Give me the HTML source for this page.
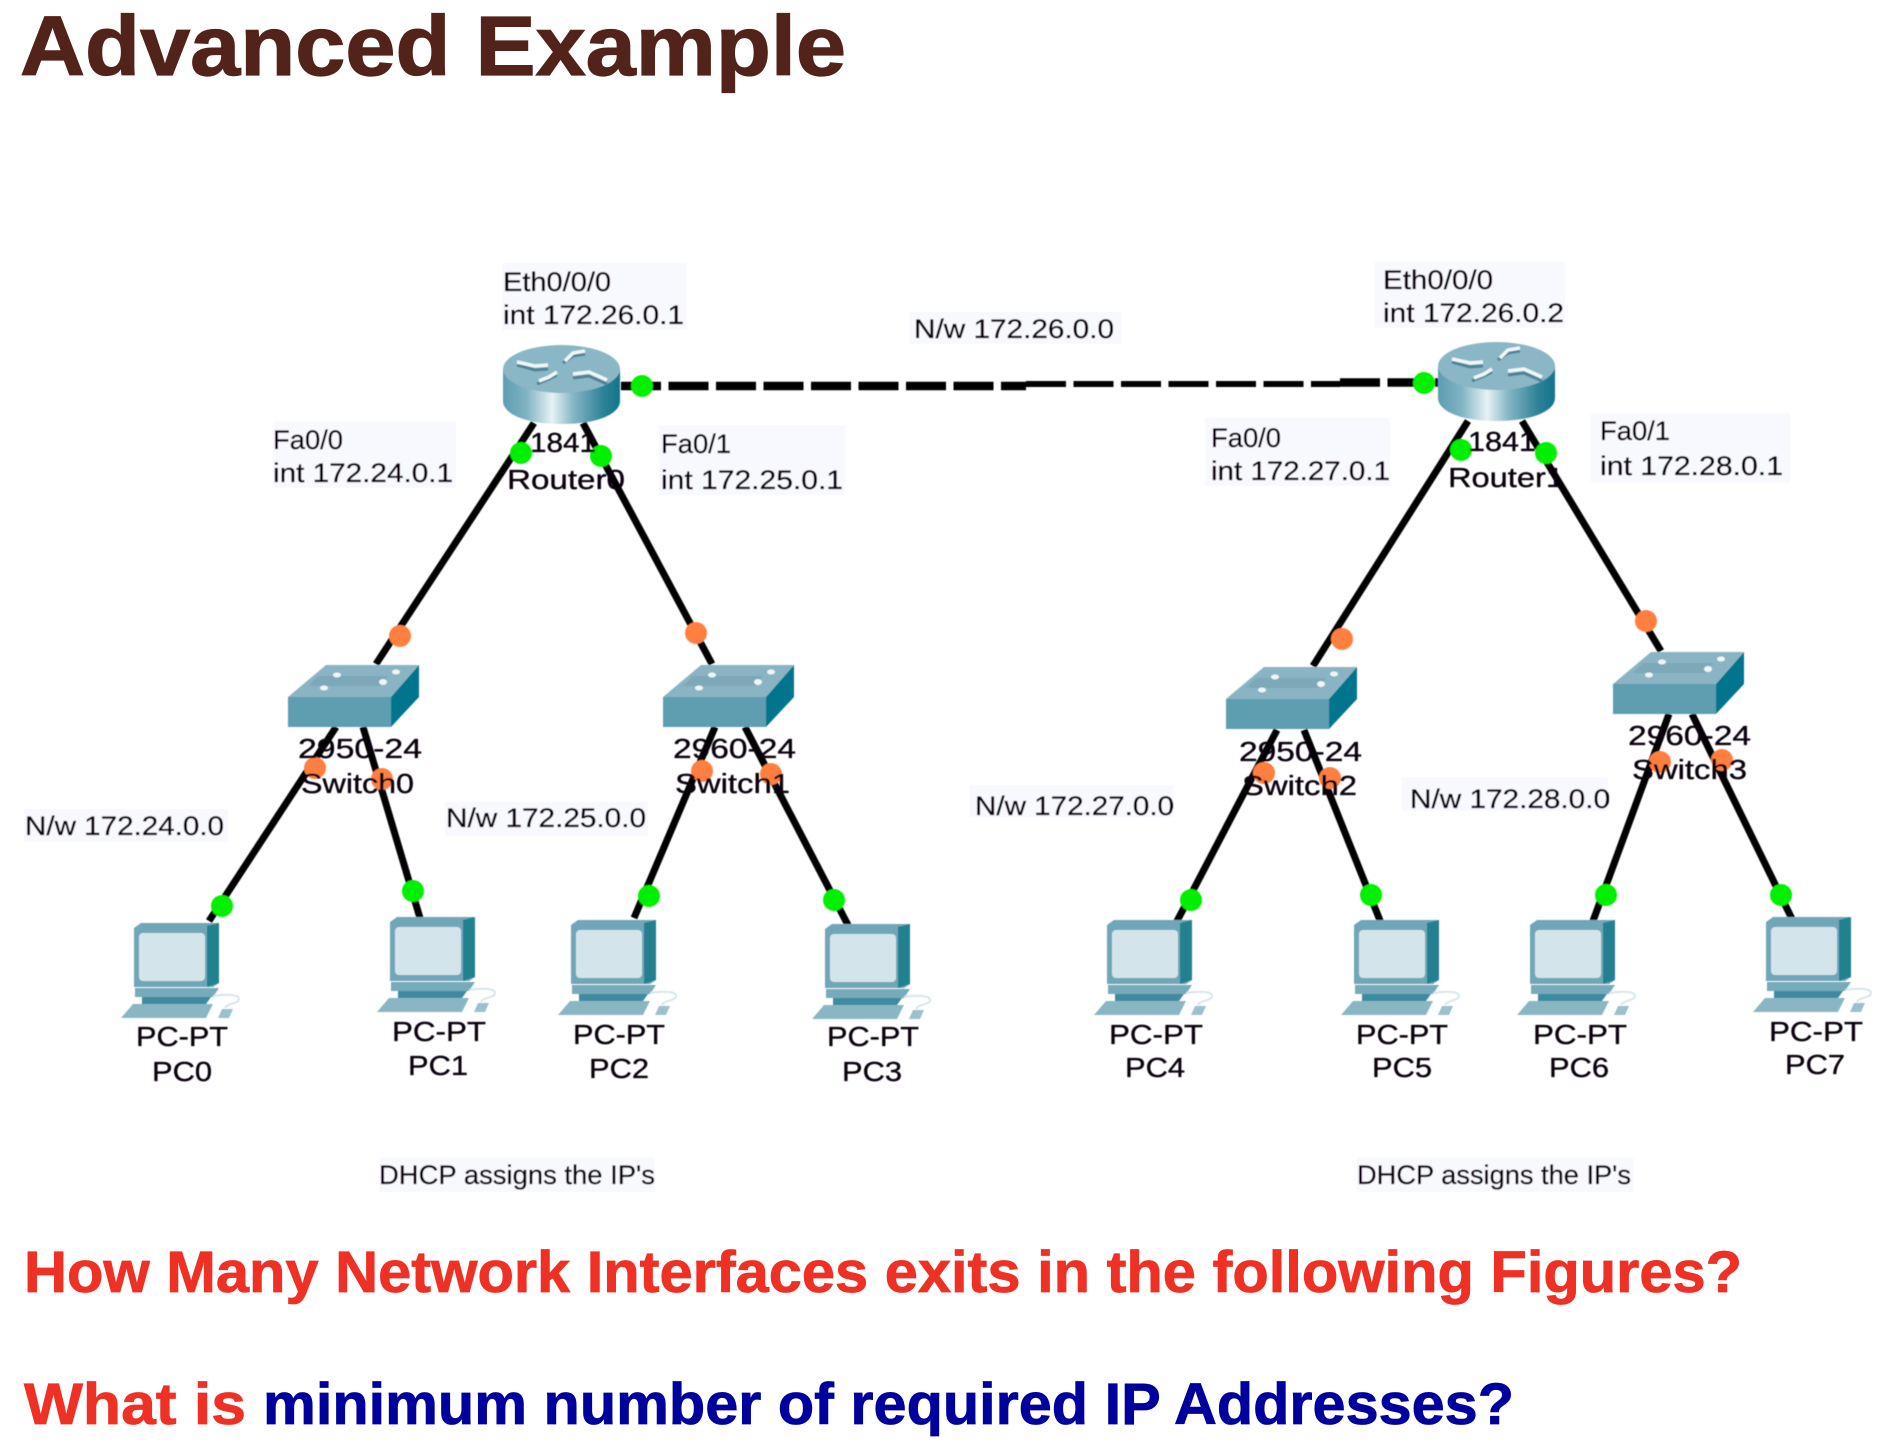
<!DOCTYPE html>
<html><head><meta charset="utf-8"><title>Advanced Example</title>
<style>
html,body{margin:0;padding:0;background:#fff;width:1890px;height:1446px;overflow:hidden}
svg{display:block}
text{font-family:"Liberation Sans",sans-serif}
.l{font-size:27px;fill:#08000f;stroke:#08000f;stroke-width:.35px}
.d{font-size:28px;fill:#08000f;stroke:#08000f;stroke-width:.35px}
.b{fill:#f8f9ff}
.w{stroke:#000;stroke-width:7;fill:none}
.g{fill:#00f000}
.o{fill:#ff7f3f}
</style></head><body>
<svg width="1890" height="1446" viewBox="0 0 1890 1446" xmlns="http://www.w3.org/2000/svg">
<defs>
<filter id="soft" filterUnits="userSpaceOnUse" x="0" y="200" width="1890" height="1010"><feGaussianBlur stdDeviation="0.55"/></filter>
<linearGradient id="cyl" x1="0" x2="1" y1="0" y2="0">
<stop offset="0" stop-color="#5d9db1"/><stop offset=".2" stop-color="#7fb3c3"/><stop offset=".42" stop-color="#e6f2f5"/><stop offset=".6" stop-color="#86b6c5"/><stop offset=".85" stop-color="#2f8398"/><stop offset="1" stop-color="#11758c"/>
</linearGradient>
<g id="router">
<path d="M0 24V56C0 68 20 79 58.500 79S117 68 117 56V24Z" fill="url(#cyl)"/>
<ellipse cx="58.500" cy="24" rx="58.500" ry="24" fill="#8bb6c5"/>
<g fill="none" stroke="#4d8397" stroke-width="3">
<path d="M14 20L32 25L45 24"/><path d="M70 33L86 31L104 39"/><path d="M34 39L46 34L54 30"/><path d="M60 18L70 11L82 9"/>
</g>
<g fill="none" stroke="#f0f7f9" stroke-width="3.500">
<path d="M14 17L32 21L45 20"/><path d="M62 16L70 8L82 6"/><path d="M70 29L86 27L104 35"/><path d="M36 36L46 32L54 27"/>
</g>
</g>
<g id="switch">
<path d="M0 33L38 1H131L103 33Z" fill="#8ab4c3"/>
<path d="M0 33H103V63H0Z" fill="#5f9db1"/>
<path d="M103 33L131 1V33L103 63Z" fill="#03758d"/>
<path d="M30 12H100L92 22H20Z" fill="#7ba8b8"/>
<g fill="#eef6f8"><ellipse cx="49" cy="11" rx="4" ry="2.500"/><ellipse cx="108" cy="8" rx="4" ry="2.500"/><ellipse cx="36" cy="24" rx="4" ry="2.500"/><ellipse cx="95" cy="18" rx="4" ry="3"/></g>
</g>
<g id="pc">
<path d="M13 5L20 0H98V60L92 64H13Z" fill="#6fa6b8"/>
<path d="M86 3L98 0V60L86 64Z" fill="#24808f"/>
<rect x="18" y="10" width="66" height="48" rx="4" fill="#d4e4eb"/>
<path d="M14 65H98L92 74H14Z" fill="#77aabb"/>
<path d="M21 74H90L85 81H21Z" fill="#3f8aa0"/>
<path d="M0 95L12 81H92L85 95Z" fill="#8ab6c4"/>
<path d="M97 95L101 86H112L108 95Z" fill="#9cc0cc"/>
<path d="M92 73C104 71 118 71 118 76C118 81 106 80 104 85" fill="none" stroke="#d8e6eb" stroke-width="2"/>
</g>
</defs>

<!-- title -->
<text x="20" y="75" font-size="84" font-weight="700" fill="#52231a" stroke="#52231a" stroke-width="1.200" textLength="826" lengthAdjust="spacingAndGlyphs">Advanced Example</text>

<g filter="url(#soft)">
<!-- label backgrounds -->
<rect class="b" x="502" y="263" width="185" height="67"/>
<rect class="b" x="273" y="421" width="183" height="67"/>
<rect class="b" x="659" y="425" width="186" height="70"/>
<rect class="b" x="24" y="809" width="204" height="33"/>
<rect class="b" x="445" y="802" width="203" height="34"/>
<rect class="b" x="1375" y="261" width="190" height="67"/>
<rect class="b" x="909" y="312" width="212" height="32"/>
<rect class="b" x="1205" y="418" width="185" height="68"/>
<rect class="b" x="1591" y="413" width="199" height="70"/>
<rect class="b" x="969" y="785" width="204" height="32"/>
<rect class="b" x="1402" y="777" width="206" height="34"/>
<rect class="b" x="379" y="1157" width="276" height="35"/>
<rect class="b" x="1357" y="1157" width="276" height="35"/>

<!-- links -->
<path d="M621 386H1026" stroke="#000" stroke-width="8.500" stroke-dasharray="40 7.500" fill="none"/>
<path d="M1026 384H1340" stroke="#000" stroke-width="6" stroke-dasharray="40 7.500" fill="none"/>
<path d="M1340 382.500H1438" stroke="#000" stroke-width="8.500" stroke-dasharray="40 7.500" fill="none"/>
<path class="w" d="M534 423L376 664"/>
<path class="w" d="M583 423L712 664"/>
<path class="w" d="M336 727L209 921"/>
<path class="w" d="M363 727L420 918"/>
<path class="w" d="M715 727L634 918"/>
<path class="w" d="M745 727L849 927"/>
<path class="w" d="M1468 421L1313 666"/>
<path class="w" d="M1522 421L1661 651"/>
<path class="w" d="M1277 730L1176 923"/>
<path class="w" d="M1304 730L1381 923"/>
<path class="w" d="M1669 714L1593 921"/>
<path class="w" d="M1692 714L1793 921"/>

<!-- devices -->
<use href="#router" x="503" y="345"/>
<use href="#router" x="1438" y="342"/>
<use href="#switch" x="288" y="664"/>
<use href="#switch" x="663" y="664"/>
<use href="#switch" x="1226" y="666"/>
<use href="#switch" x="1613" y="651"/>
<use href="#pc" x="121" y="923"/>
<use href="#pc" x="377" y="917"/>
<use href="#pc" x="558" y="920"/>
<use href="#pc" x="812" y="924"/>
<use href="#pc" x="1094" y="920"/>
<use href="#pc" x="1341" y="920"/>
<use href="#pc" x="1517" y="920"/>
<use href="#pc" x="1753" y="917"/>

<!-- dots -->
<g class="g">
<circle cx="642" cy="386" r="11"/><circle cx="1424" cy="383" r="11"/>
<circle cx="521" cy="453" r="11"/><circle cx="601" cy="456" r="11"/>
<circle cx="1461" cy="450" r="11"/><circle cx="1546" cy="453" r="11"/>
<circle cx="222" cy="906" r="11"/><circle cx="413" cy="891" r="11"/>
<circle cx="649" cy="896" r="11"/><circle cx="834" cy="900" r="11"/>
<circle cx="1191" cy="900" r="11"/><circle cx="1371" cy="895" r="11"/>
<circle cx="1606" cy="895" r="11"/><circle cx="1781" cy="895" r="11"/>
</g>
<g class="o">
<circle cx="400" cy="636" r="11"/><circle cx="696" cy="633" r="11"/>
<circle cx="1342" cy="639" r="11"/><circle cx="1646" cy="621" r="11"/>
<circle cx="315" cy="768" r="11"/><circle cx="382" cy="779" r="11"/>
<circle cx="702" cy="771" r="11"/><circle cx="771" cy="774" r="11"/>
<circle cx="1264" cy="773" r="11"/><circle cx="1330" cy="778" r="11"/>
<circle cx="1660" cy="762" r="11"/><circle cx="1722" cy="760" r="11"/>
</g>

<!-- interface labels -->
<text class="l" x="503" y="291" textLength="108" lengthAdjust="spacingAndGlyphs">Eth0/0/0</text>
<text class="l" x="503" y="324" textLength="181" lengthAdjust="spacingAndGlyphs">int 172.26.0.1</text>
<text class="l" x="273" y="449" textLength="70" lengthAdjust="spacingAndGlyphs">Fa0/0</text>
<text class="l" x="273" y="482" textLength="180" lengthAdjust="spacingAndGlyphs">int 172.24.0.1</text>
<text class="l" x="661" y="453" textLength="70" lengthAdjust="spacingAndGlyphs">Fa0/1</text>
<text class="l" x="661" y="489" textLength="182" lengthAdjust="spacingAndGlyphs">int 172.25.0.1</text>
<text class="l" x="1383" y="289" textLength="110" lengthAdjust="spacingAndGlyphs">Eth0/0/0</text>
<text class="l" x="1383" y="322" textLength="181" lengthAdjust="spacingAndGlyphs">int 172.26.0.2</text>
<text class="l" x="1211" y="447" textLength="70" lengthAdjust="spacingAndGlyphs">Fa0/0</text>
<text class="l" x="1211" y="480" textLength="179" lengthAdjust="spacingAndGlyphs">int 172.27.0.1</text>
<text class="l" x="1600" y="440" textLength="70" lengthAdjust="spacingAndGlyphs">Fa0/1</text>
<text class="l" x="1600" y="475" textLength="183" lengthAdjust="spacingAndGlyphs">int 172.28.0.1</text>

<!-- network labels -->
<text class="l" x="25" y="835" textLength="199" lengthAdjust="spacingAndGlyphs">N/w 172.24.0.0</text>
<text class="l" x="446" y="827" textLength="200" lengthAdjust="spacingAndGlyphs">N/w 172.25.0.0</text>
<text class="l" x="914" y="338" textLength="200" lengthAdjust="spacingAndGlyphs">N/w 172.26.0.0</text>
<text class="l" x="975" y="815" textLength="199" lengthAdjust="spacingAndGlyphs">N/w 172.27.0.0</text>
<text class="l" x="1410" y="808" textLength="200" lengthAdjust="spacingAndGlyphs">N/w 172.28.0.0</text>
<text class="l" x="379" y="1184" textLength="276" lengthAdjust="spacingAndGlyphs">DHCP assigns the IP's</text>
<text class="l" x="1357" y="1184" textLength="274" lengthAdjust="spacingAndGlyphs">DHCP assigns the IP's</text>

<!-- device labels -->
<text class="d" x="530" y="452" textLength="66" lengthAdjust="spacingAndGlyphs">1841</text>
<text class="d" x="507" y="489" textLength="118" lengthAdjust="spacingAndGlyphs">Router0</text>
<text class="d" x="1468" y="451" textLength="68" lengthAdjust="spacingAndGlyphs">1841</text>
<text class="d" x="1448" y="487" textLength="116" lengthAdjust="spacingAndGlyphs">Router1</text>
<text class="d" x="298" y="758" textLength="124" lengthAdjust="spacingAndGlyphs">2950-24</text>
<text class="d" x="301" y="793" textLength="113" lengthAdjust="spacingAndGlyphs">Switch0</text>
<text class="d" x="673" y="758" textLength="123" lengthAdjust="spacingAndGlyphs">2960-24</text>
<text class="d" x="675" y="793" textLength="115" lengthAdjust="spacingAndGlyphs">Switch1</text>
<text class="d" x="1239" y="761" textLength="123" lengthAdjust="spacingAndGlyphs">2950-24</text>
<text class="d" x="1242" y="795" textLength="115" lengthAdjust="spacingAndGlyphs">Switch2</text>
<text class="d" x="1628" y="745" textLength="123" lengthAdjust="spacingAndGlyphs">2960-24</text>
<text class="d" x="1632" y="779" textLength="115" lengthAdjust="spacingAndGlyphs">Switch3</text>

<text class="d" x="136" y="1046" textLength="92" lengthAdjust="spacingAndGlyphs">PC-PT</text>
<text class="d" x="152" y="1081" textLength="60" lengthAdjust="spacingAndGlyphs">PC0</text>
<text class="d" x="392" y="1041" textLength="94" lengthAdjust="spacingAndGlyphs">PC-PT</text>
<text class="d" x="408" y="1075" textLength="60" lengthAdjust="spacingAndGlyphs">PC1</text>
<text class="d" x="573" y="1044" textLength="92" lengthAdjust="spacingAndGlyphs">PC-PT</text>
<text class="d" x="589" y="1078" textLength="60" lengthAdjust="spacingAndGlyphs">PC2</text>
<text class="d" x="827" y="1046" textLength="92" lengthAdjust="spacingAndGlyphs">PC-PT</text>
<text class="d" x="842" y="1081" textLength="60" lengthAdjust="spacingAndGlyphs">PC3</text>
<text class="d" x="1109" y="1044" textLength="94" lengthAdjust="spacingAndGlyphs">PC-PT</text>
<text class="d" x="1125" y="1077" textLength="60" lengthAdjust="spacingAndGlyphs">PC4</text>
<text class="d" x="1356" y="1044" textLength="92" lengthAdjust="spacingAndGlyphs">PC-PT</text>
<text class="d" x="1372" y="1077" textLength="60" lengthAdjust="spacingAndGlyphs">PC5</text>
<text class="d" x="1533" y="1044" textLength="94" lengthAdjust="spacingAndGlyphs">PC-PT</text>
<text class="d" x="1549" y="1077" textLength="60" lengthAdjust="spacingAndGlyphs">PC6</text>
<text class="d" x="1769" y="1041" textLength="94" lengthAdjust="spacingAndGlyphs">PC-PT</text>
<text class="d" x="1785" y="1074" textLength="60" lengthAdjust="spacingAndGlyphs">PC7</text>
</g>

<!-- questions -->
<text x="24" y="1292" font-size="58" font-weight="700" fill="#ee3124" stroke="#ee3124" stroke-width="0.800" textLength="1718" lengthAdjust="spacingAndGlyphs">How Many Network Interfaces exits in the following Figures?</text>
<text x="24" y="1424" font-size="58" font-weight="700" fill="#ee3124" stroke="#ee3124" stroke-width="0.800" textLength="222" lengthAdjust="spacingAndGlyphs">What is</text>
<text x="263" y="1424" font-size="58" font-weight="700" fill="#00009c" stroke="#00009c" stroke-width="0.800" textLength="1251" lengthAdjust="spacingAndGlyphs">minimum number of required IP Addresses?</text>
</svg>
</body></html>
